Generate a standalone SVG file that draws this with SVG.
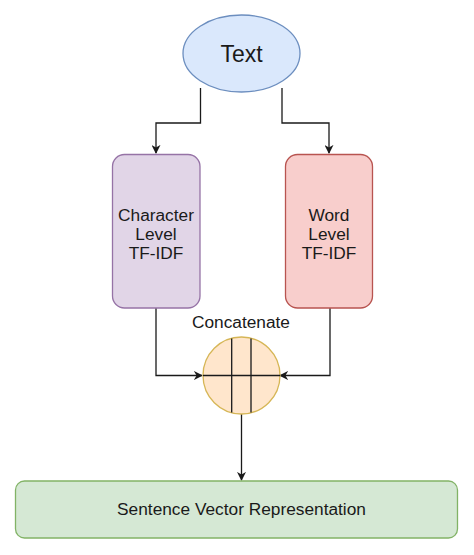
<svg xmlns="http://www.w3.org/2000/svg" width="474" height="555" viewBox="0 0 474 555">
<style>
text{font-family:"Liberation Sans",Arial,sans-serif;fill:#1a1a1a;text-anchor:middle;font-size:17.3px}
.c{fill:none;stroke:#1a1a1a;stroke-width:1.3}
</style>
<defs>
<marker id="a" viewBox="0 0 10 10" refX="9" refY="5" markerWidth="9" markerHeight="9" orient="auto" markerUnits="userSpaceOnUse">
<path d="M0,0 L10,5 L0,10 L3,5 Z" fill="#1a1a1a"/>
</marker>
</defs>
<rect width="474" height="555" fill="#fff"/>
<g id="connectors">
<path class="c" d="M200.5,88 V123 H156 V153" marker-end="url(#a)"/>
<path class="c" d="M282,88 V123 H329 V153" marker-end="url(#a)"/>
<path class="c" d="M156,308 V375.5 H202" marker-end="url(#a)"/>
<path class="c" d="M330,308 V375.5 H280" marker-end="url(#a)"/>
<path class="c" d="M241.5,414 V480" marker-end="url(#a)"/>
</g>
<g id="text-node">
<ellipse cx="241.5" cy="53.5" rx="58.5" ry="38.5" fill="#dae8fc" stroke="#6c8ebf" stroke-width="1.3"/>
<text x="241.5" y="62" style="font-size:23px">Text</text>
</g>
<g id="char-node">
<rect x="112.5" y="154.5" width="87.5" height="153.5" rx="12" fill="#e1d5e7" stroke="#9673a6" stroke-width="1.3"/>
<text x="156" y="221">Character</text>
<text x="156" y="240">Level</text>
<text x="156" y="259">TF-IDF</text>
</g>
<g id="word-node">
<rect x="285.5" y="154.5" width="87" height="153.5" rx="12" fill="#f8cecc" stroke="#b85450" stroke-width="1.3"/>
<text x="329" y="221">Word</text>
<text x="329" y="240">Level</text>
<text x="329" y="259">TF-IDF</text>
</g>
<g id="concat-node">
<circle cx="241.5" cy="375.5" r="38.5" fill="#ffe6cc" stroke="#d6b656" stroke-width="1.3"/>
<path d="M203,375.5 H280 M231.7,338.5 V412.5 M251,338.5 V412.5" stroke="#1a1a1a" stroke-width="1.3" fill="none"/>
<text x="241" y="328">Concatenate</text>
</g>
<g id="sentence-node">
<rect x="15.5" y="481" width="442" height="57" rx="9" fill="#d5e8d4" stroke="#82b366" stroke-width="1.3"/>
<text x="241.5" y="515">Sentence Vector Representation</text>
</g>
</svg>
